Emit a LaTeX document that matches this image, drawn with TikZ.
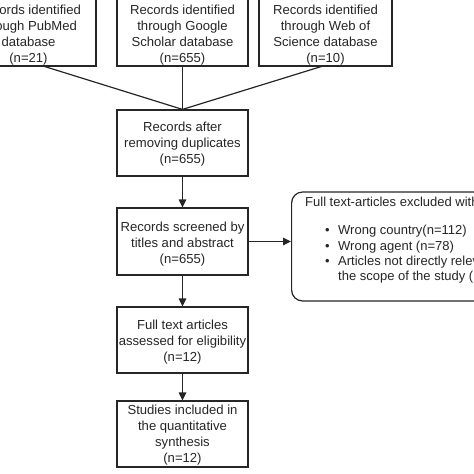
\documentclass[tikz,border=0pt]{standalone}
\usepackage{fontspec}
\setmainfont{Liberation Sans}
\usetikzlibrary{arrows.meta,calc}
\begin{document}
\begin{tikzpicture}[x=1pt,y=-1pt,
  box/.style={draw=black!85,line width=1.2pt,fill=white,inner sep=0pt},
  txt/.style={align=center,inner sep=0pt,font=\fontsize{13.1}{15.9}\selectfont,text=black!85},
  rbox/.style={draw=black!85,line width=1.2pt,rounded corners=11pt},
  conn/.style={draw=black!85,line width=1.2pt},
  arr/.style={conn,-{Triangle[length=8pt,width=7.5pt]}}]
\useasboundingbox (0,0) rectangle (474,474);
\clip (0,0) rectangle (474,474);
\fill[white] (0,0) rectangle (474,474);
% top row
\node[box,minimum width=135pt,minimum height=70pt] (pub) at (28.5,31) {};
\node[txt] (pubt) at (28.5,35)
  {Records identified\\through PubMed\\database\\(n=21)};
\node[box,minimum width=131pt,minimum height=70pt] (goo) at (182.5,31) {};
\node[txt] (goot) at (182.5,35)
  {Records identified\\through Google\\Scholar database\\(n=655)};
\node[box,minimum width=133pt,minimum height=70pt] (wos) at (325.5,31) {};
\node[txt] (wost) at (325.5,35)
  {Records identified\\through Web of\\Science database\\(n=10)};
% middle column
\node[box,minimum width=131pt,minimum height=66pt] (dup) at (182.5,143) {};
\node[txt] (dupt) at (182.5,144.3) {Records after\\removing duplicates\\(n=655)};
\node[box,minimum width=131pt,minimum height=67pt] (scr) at (182.5,241.5) {};
\node[txt] (scrt) at (182.5,244.3) {Records screened by\\titles and abstract\\(n=655)};
\node[box,minimum width=131pt,minimum height=66pt] (full) at (182.5,340) {};
\node[txt] (fullt) at (182.5,342.3) {Full text articles\\assessed for eligibility\\(n=12)};
\node[box,minimum width=131pt,minimum height=66pt] (stud) at (182.5,434) {};
\node[txt] (studt) at (182.5,435) {Studies included in\\the quantitative\\synthesis\\(n=12)};
% excluded box
\node[rbox,minimum width=240pt,minimum height=109pt,anchor=west] (excl) at (291,246.5) {};
\node[anchor=north west,align=left,inner sep=0pt,text=black!85,
  font=\fontsize{13}{15.3}\selectfont] (excltext) at (305,196.5)
  {Full text-articles excluded with reasons\\[13.5pt]
   \hspace*{20pt}\makebox[13pt][l]{\textbullet}Wrong country(n=112)\\
   \hspace*{20pt}\makebox[13pt][l]{\textbullet}Wrong agent (n=78)\\
   \hspace*{20pt}\makebox[13pt][l]{\textbullet}Articles not directly relevant to\\
   \hspace*{33pt}the scope of the study (n=453)};
% connectors
\coordinate (pubout) at (43,66);
\coordinate (wosout) at (323,66);
\draw[conn] (pubout) -- (dup.north);
\draw[conn] (goo.south) -- (dup.north);
\draw[conn] (wosout) -- (dup.north);
\draw[arr] (dup.south) -- (scr.north);
\draw[arr] (scr.east) -- (scr.east -| excl.west);
\draw[arr] (scr.south) -- (full.north);
\draw[arr] (full.south) -- (stud.north);
\end{tikzpicture}
\end{document}
